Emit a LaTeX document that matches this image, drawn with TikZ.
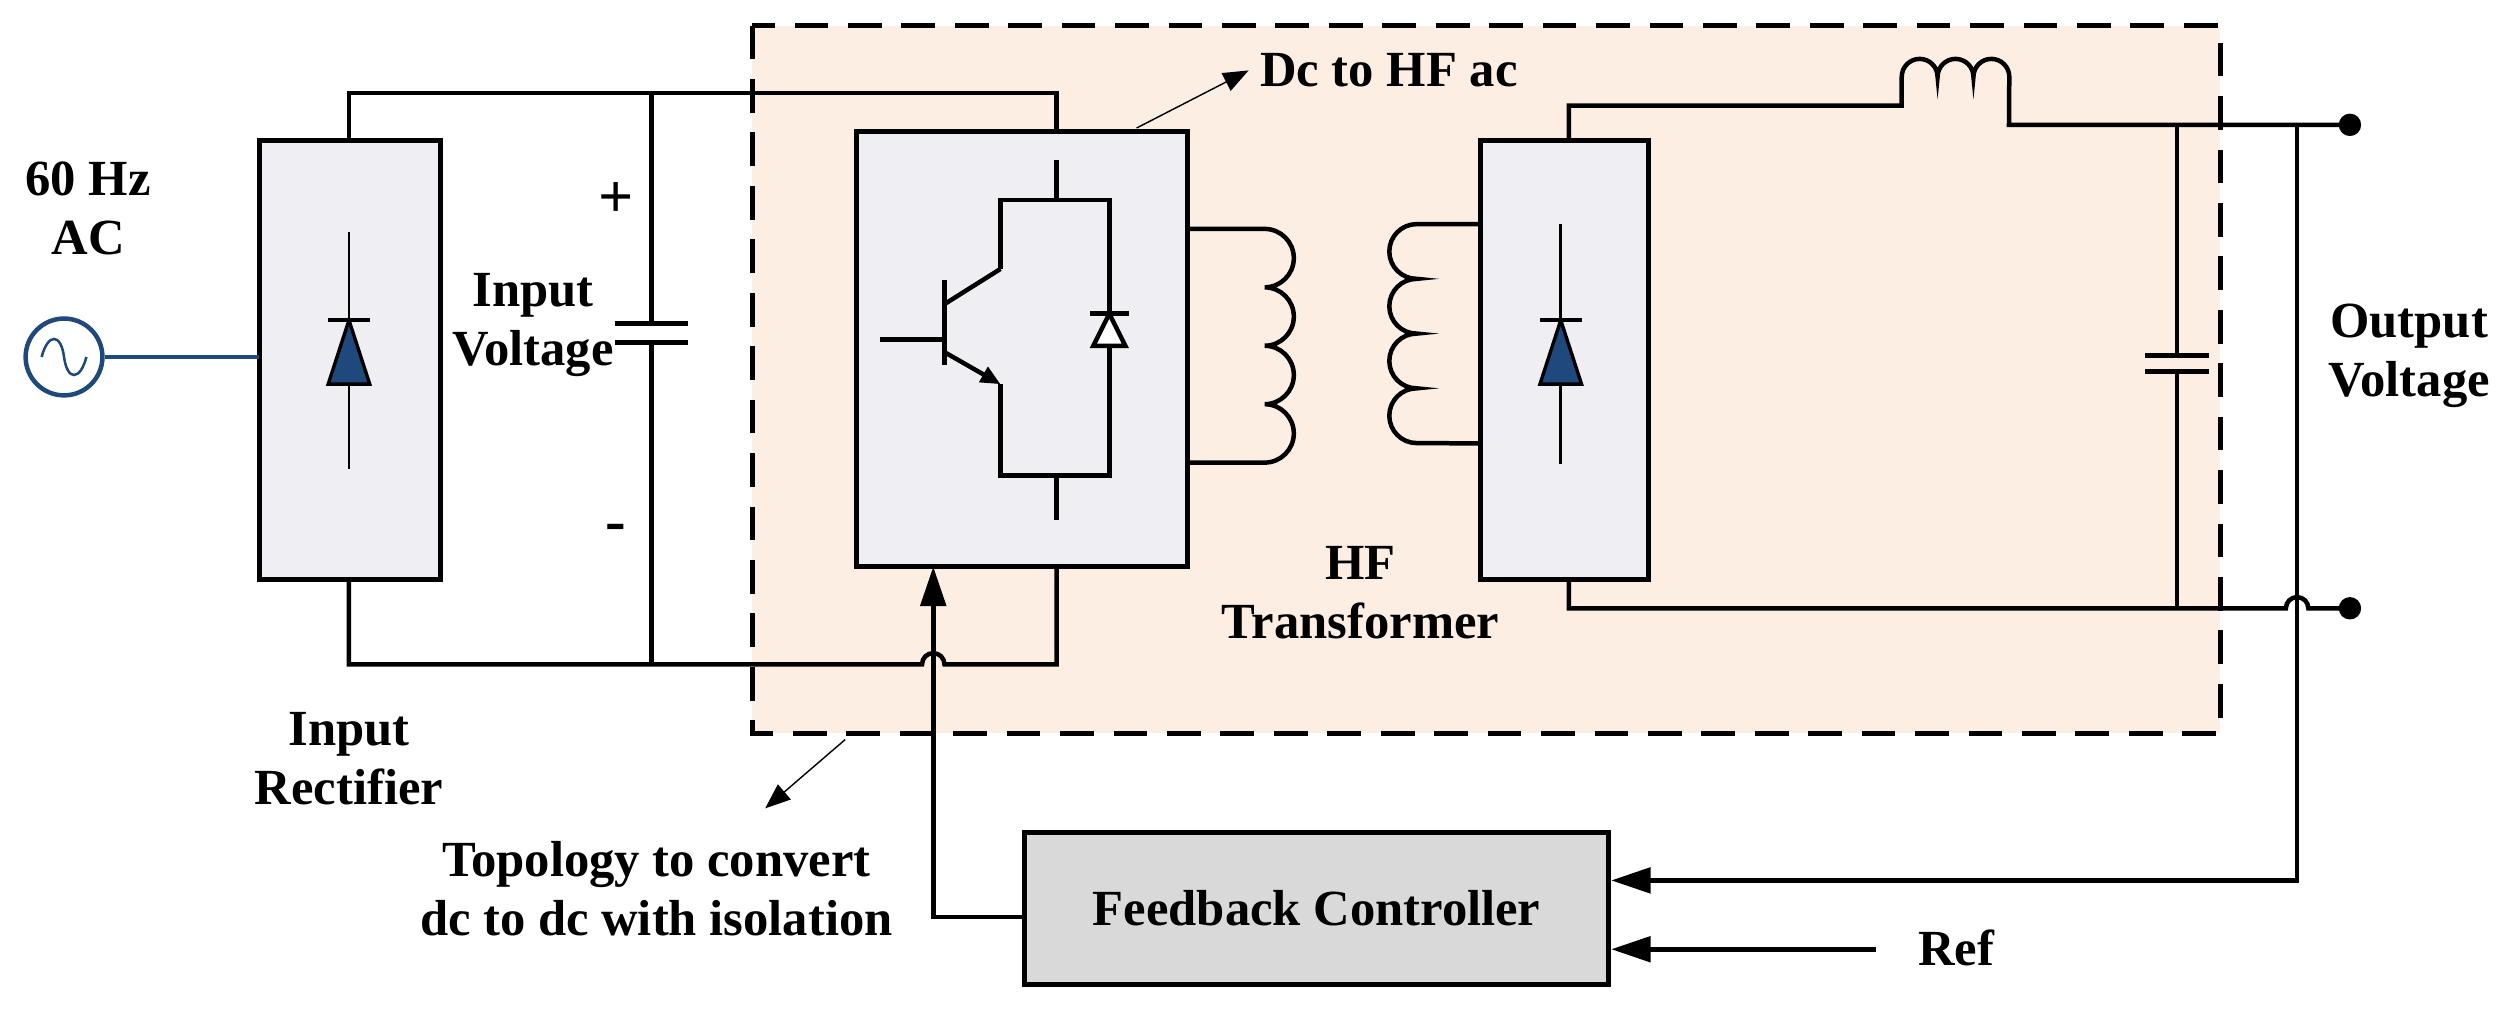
\documentclass[tikz,border=0pt]{standalone}
\usepackage{fontspec}
\setmainfont{Liberation Serif}
\usetikzlibrary{arrows.meta}
\definecolor{peach}{HTML}{FCEEE3}
\definecolor{boxgray}{HTML}{EFEEF3}
\definecolor{ctrlgray}{HTML}{D9D9D9}
\definecolor{dblue}{HTML}{1F497D}
\begin{document}
\begin{tikzpicture}[x=0.02cm,y=-0.02cm,line width=1.6pt,
  lbl/.style={font=\bfseries\fontsize{18}{21}\selectfont,align=center},
  blk/.style={draw,fill=boxgray,line width=1.8pt},
  big/.style={-{Triangle[length=14pt,width=9pt]}},
  thin/.style={line width=0.5pt,-{Triangle[length=9pt,width=7pt]}}]
\useasboundingbox (0,0) rectangle (1568,634);
% isolated converter region
\fill[peach] (470,16) rectangle (1387,458);
\draw[dashed,dash pattern=on 12pt off 7pt,line width=1.8pt] (470,16) rectangle (1387,458);
% blocks
\node[blk,minimum width=2.26cm,minimum height=5.48cm,inner sep=0] (rect) at (218.5,225) {};
\node[blk,minimum width=4.14cm,minimum height=5.44cm,inner sep=0] (inv) at (638.5,218) {};
\node[blk,minimum width=2.1cm,minimum height=5.48cm,inner sep=0] (outr) at (977.5,225) {};
\node[draw,fill=ctrlgray,line width=1.8pt,minimum width=7.3cm,minimum height=1.9cm,lbl] (fb) at (822.5,567.5) {Feedback Controller};
% AC source
\node[draw=dblue,circle,minimum size=0.96cm,line width=1.6pt] (ac) at (40,223) {};
\draw[dblue,line width=0.9pt] (26,223) .. controls (30,208) and (38,208) .. (40,223) .. controls (42,238) and (50,238) .. (54,223);
\draw[dblue] (ac.east) -- (162,223);
% diode macro
\newcommand{\bdiode}[3]{% x, ytop, ybot
  \draw[line width=1pt] (#1,#2) -- (#1,#3);
  \draw[fill=dblue,line width=1.2pt] (#1,200) -- (#1-13,240) -- (#1+13,240) -- cycle;
  \draw (#1-13,200) -- (#1+13,200);}
\bdiode{218}{145}{293}
\bdiode{975}{140}{290}
% input side wiring
\draw (218,88) -- (218,58) -- (660,58) -- (660,82);
\draw (407,58) -- (407,202) (384,202) -- (430,202) (384,214) -- (430,214) (407,214) -- (407,415);
\draw (218,362) -- (218,415) -- (576,415) arc[start angle=180,end angle=360,radius=7] -- (660,415) -- (660,354);
\node[lbl,font=\bfseries\fontsize{22}{22}\selectfont] at (385,125) {+};
\node[lbl,font=\bfseries\fontsize{22}{22}\selectfont] at (385,333) {-};
% switch cell
\draw (660,100) -- (660,125);
\draw (625,168) -- (625,125) -- (693,125) -- (693,297) -- (625,297) -- (625,240);
\draw (660,297) -- (660,325);
\draw (590,175) -- (590,228);
\draw (550,212) -- (590,212);
\draw (590,190) -- (625,168);
\draw[-{Triangle[length=7pt,width=6pt]}] (590,220) -- (625,240);
\draw[fill=white] (693,196) -- (683,216) -- (703,216) -- cycle;
\draw (681,196) -- (705,196);
% transformer
\draw (742,143) -- (790,143) arc[start angle=-90,end angle=90,radius=18.25]
  arc[start angle=-90,end angle=90,radius=18.25] arc[start angle=-90,end angle=90,radius=18.25]
  arc[start angle=-90,end angle=90,radius=18.25] -- (742,289);
\draw (925,140) -- (885,140) arc[start angle=-90,end angle=-270,radius=17.1]
  arc[start angle=-90,end angle=-270,radius=17.1] arc[start angle=-90,end angle=-270,radius=17.1]
  arc[start angle=-90,end angle=-270,radius=17.1] -- (925,277);
% output side wiring
\coordinate (vp) at (1468,78);
\coordinate (vn) at (1468,380);
\draw (980,88) -- (980,66) -- (1188,66) -- (1188,48)
  arc[start angle=180,end angle=360,radius=11.2] arc[start angle=180,end angle=360,radius=11.2]
  arc[start angle=180,end angle=360,radius=11.2] -- (1255,78) -- (vp);
\draw (1360,78) -- (1360,222) (1340,222) -- (1380,222) (1340,232) -- (1380,232) (1360,232) -- (1360,380);
\draw (980,362) -- (980,380) -- (1428,380) arc[start angle=180,end angle=360,radius=7] -- (vn);
\fill (vp) circle (7);
\fill (vn) circle (7);
% feedback
\draw[big] (1435,78) -- (1435,550) -- (fb.east |- 0,550);
\coordinate (ref) at (1172,593);
\draw[big] (ref) -- (fb.east |- ref);
\draw[big] (fb.west |- 0,573) -- (583,573) -- (583,354);
% labels
\node[lbl] at (55,130) {60 Hz\\AC};
\node[lbl] at (333,203) {Input\\Voltage};
\node[lbl] at (218,474) {Input\\Rectifier};
\node[lbl] (topo) at (410,555) {Topology to convert\\dc to dc with isolation};
\draw[thin] (528,462) -- (478,505);
\node[lbl,anchor=west] (dc) at (780,44) {Dc to HF ac};
\draw[thin] (710,80) -- (dc.west);
\node[lbl] at (850,370) {HF\\Transformer};
\node[lbl] at (1505,222) {Output\\Voltage};
\node[lbl] at (1222,592) {Ref};
\end{tikzpicture}
\end{document}
